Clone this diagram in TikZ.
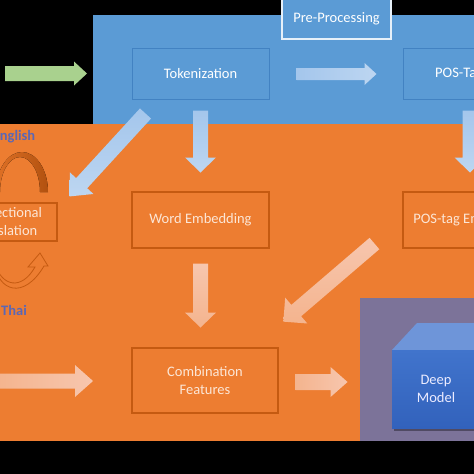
\documentclass[tikz,border=0pt]{standalone}
\usepackage{fontspec}
\setmainfont{Carlito}
\usetikzlibrary{calc}
\definecolor{bgblue}{HTML}{5B9BD5}
\definecolor{bgorange}{HTML}{ED7D31}
\definecolor{bgpurple}{HTML}{7C7399}
\definecolor{blueedge}{HTML}{4282C2}
\definecolor{orangeedge}{HTML}{C55A11}
\definecolor{cream}{HTML}{FCE6D6}
\definecolor{langblue}{HTML}{5B67B5}
\definecolor{arrgreen}{HTML}{A9D18E}
\definecolor{arrblueA}{HTML}{A4C6EC}
\definecolor{arrblueB}{HTML}{BDD6F1}
\definecolor{arrpeachA}{HTML}{F4B48E}
\definecolor{arrpeachB}{HTML}{F7C6AE}
\definecolor{cubefront}{HTML}{4174CC}
\definecolor{cubefrontB}{HTML}{3262BC}
\definecolor{cubetop}{HTML}{6E95D9}
\newcommand{\myblockarrow}[7]{%
  \path[#1, shift={#2}, rotate=#3]
    (0,-#5) -- ({#4-#7},-#5) -- ({#4-#7},-#6) -- (#4,0)
    -- ({#4-#7},#6) -- ({#4-#7},#5) -- (0,#5) -- cycle;}
\tikzset{
  txt/.style={font=\fontsize{14.5}{18}\selectfont},
  bluebox/.style={txt, draw=blueedge, line width=1pt, rectangle, align=center,
    inner sep=0pt, text=white},
  orangebox/.style={txt, draw=orangeedge, line width=1.1pt, rectangle, align=center,
    inner sep=0pt, text=cream},
  langlabel/.style={txt, font=\fontsize{14.5}{18}\selectfont\bfseries, text=langblue},
  greenarrow/.style={fill=arrgreen},
  bluearrowH/.style={left color=arrblueA, right color=arrblueB},
  bluearrowV/.style={top color=arrblueA, bottom color=arrblueB},
  peacharrowH/.style={left color=arrpeachA, right color=arrpeachB},
  peacharrowV/.style={top color=arrpeachB, bottom color=arrpeachA},
}
\begin{document}
\begin{tikzpicture}[x=1pt,y=-1pt]
\useasboundingbox (0,0) rectangle (474,474);
\clip (0,0) rectangle (474,474);
\fill[black] (0,0) rectangle (474,474);
% regions
\fill[bgorange] (0,124) rectangle (474,441);
\fill[bgblue] (93,15) rectangle (474,124);
\fill[bgpurple] (360,298) rectangle (474,441);
% nodes
\node[bluebox, minimum width=109pt, minimum height=41pt, fill=bgblue, draw=white!85!bgblue, line width=1.3pt]
  (pp) at (336.5,18.5) {Pre-Processing};
\node[bluebox, minimum width=137pt, minimum height=51pt] (tok) at (200.5,73.5) {Tokenization};
\node[bluebox, minimum width=137pt, minimum height=51pt] (pos) at (471.5,73.5) {POS-Tagging};
\node[orangebox, minimum width=137pt, minimum height=56pt] (we) at (200.5,220) {Word Embedding};
\node[orangebox, minimum width=137pt, minimum height=56pt] (pe) at (471.5,220) {POS-tag Embedding};
\node[orangebox, minimum width=104pt, minimum height=38pt] (bi) at (5,222) {Bidirectional\\Translation};
\node[orangebox, minimum width=146pt, minimum height=65pt] (cf) at (205,380.5) {Combination\\Features};
\node[langlabel] (en) at (14,137) {English};
\node[langlabel] (th) at (14,310) {Thai};
% deep model cube
\fill[black, opacity=0.35] (394,353) rectangle (482,431);
\fill[cubetop] (392,350) -- (417,323) -- (490,323) -- (490,350) -- cycle;
\node[txt, rectangle, minimum width=88pt, minimum height=78pt, inner sep=0pt,
  top color=cubefront, bottom color=cubefrontB, text=white!92!blue, align=center]
  (dm) at (436,389) {Deep\\Model};
% curved arrows (translation cycle)
\fill[left color=orangeedge!35!bgorange, right color=orangeedge!90!black]
  (48,192) arc[start angle=0, end angle=-180, x radius=26, y radius=40]
  -- (0,192) arc[start angle=-180, end angle=0, x radius=20, y radius=35] -- cycle;
\draw[orangeedge, line width=0.8pt]
  (-6,262) .. controls (-2,292) and (24,300) .. (44,266)
  -- (48,266) -- (40,253) -- (28,267) -- (35,267)
  .. controls (22,290) and (2,288) .. (-6,262);
% block arrows
\myblockarrow{greenarrow}{(5,73.5)}{0}{82}{7.5}{12}{13}
\myblockarrow{bluearrowH}{($(tok.east)+(27,0.5)$)}{0}{80}{6}{11}{12}
\myblockarrow{bluearrowV}{($(tok.south)+(0,11)$)}{-90}{62}{7.5}{15.5}{15}
\myblockarrow{bluearrowV}{($(tok.south west)+(14,14)$)}{-132.5}{112.5}{7.5}{16}{18}
\myblockarrow{bluearrowV}{($(pos.south)+(-1.5,11)$)}{-90}{62}{7.5}{15.5}{15}
\myblockarrow{peacharrowV}{($(we.south)+(0,15)$)}{-90}{64}{7.5}{15.5}{15}
\myblockarrow{peacharrowV}{($(pe.south west)+(-28,-5)$)}{-139.4}{120}{7.5}{17}{17}
\myblockarrow{peacharrowH}{(-2,381)}{0}{95}{7.5}{16}{18}
\myblockarrow{peacharrowH}{($(cf.east)+(17,1.5)$)}{0}{52}{8}{15}{17}
\end{tikzpicture}
\end{document}
